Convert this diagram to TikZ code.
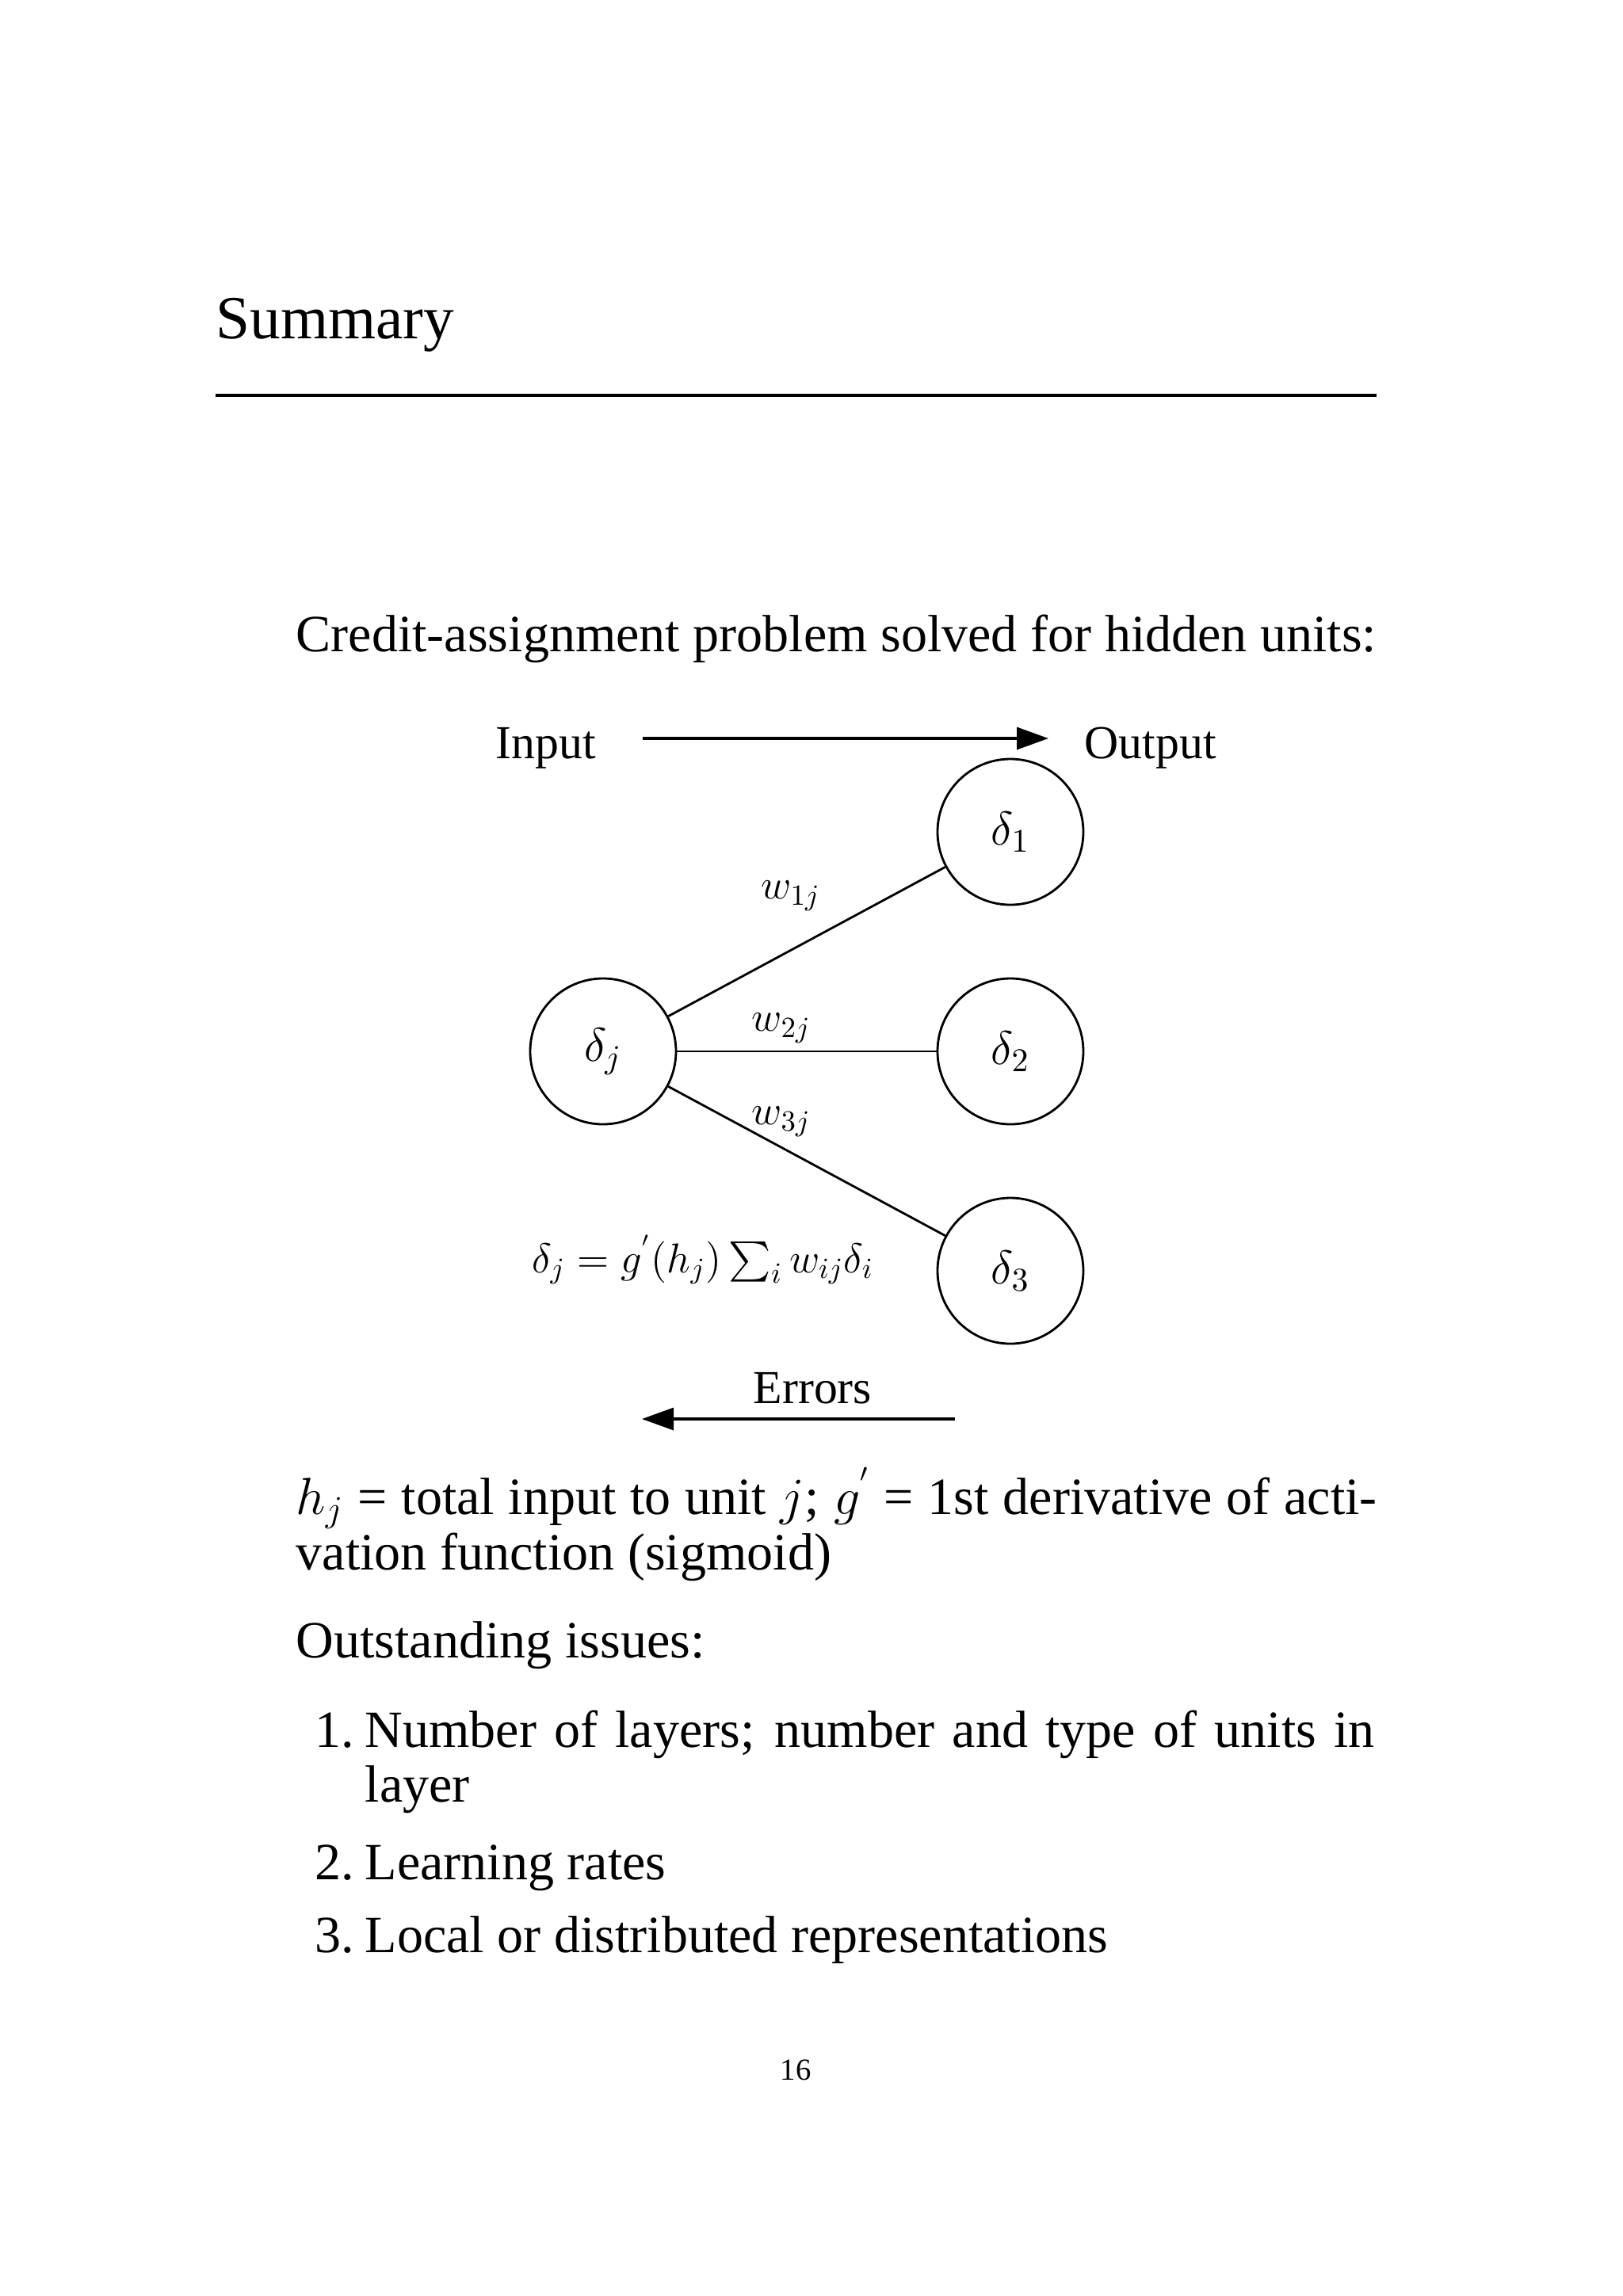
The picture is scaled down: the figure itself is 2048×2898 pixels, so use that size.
\documentclass[tikz,border=0pt]{standalone}
\usepackage{fix-cm}
\usepackage{exscale}
\usepackage{fontspec}
\setmainfont{Liberation Serif}
\usetikzlibrary{arrows.meta}

\begin{document}
\begin{tikzpicture}[x=0.1mm,y=-0.1mm,>={Triangle[length=4mm,width=2.8mm]},
 unit/.style={draw,circle,line width=0.8pt,minimum size=18.4mm,inner sep=0pt,font=\fontsize{17}{20}\selectfont},
 txt/.style={anchor=base west,inner sep=0pt,font=\fontsize{18.8}{23}\selectfont},
 lbl/.style={anchor=base west,inner sep=0pt,font=\fontsize{17}{20}\selectfont},
 wt/.style={inner sep=0pt,font=\fontsize{15}{18}\selectfont},
 link/.style={line width=0.8pt},
 flow/.style={->,line width=0.9pt}]
\useasboundingbox (0,0) rectangle (2048,2898);
% heading
\node[anchor=base west,inner sep=0pt,font=\fontsize{22}{26}\selectfont] (ttl) at (272,427) {Summary};
\draw[line width=1.1pt] (272,499) -- (1737,499);
\node[txt] (intro) at (373,822) {Credit-assignment problem solved for hidden units:};
% network
\node[lbl] (in) at (625,957) {Input};
\node[lbl] (out) at (1368,957) {Output};
\coordinate (fa) at (811,932); \coordinate (fb) at (1323,932);
\draw[flow] (fa) -- (fb);
\node[unit] (d1) at (1275,1050) {$\delta_1$};
\node[unit] (d2) at (1275,1327) {$\delta_2$};
\node[unit] (d3) at (1275,1604) {$\delta_3$};
\node[unit] (dj) at (761,1327) {$\delta_j$};
\draw[link] (dj) -- (d1); \draw[link] (dj) -- (d2); \draw[link] (dj) -- (d3);
\node[wt] (w1) at (998,1131) {$w_{1j}$};
\node[wt] (w2) at (986,1298) {$w_{2j}$};
\node[wt] (w3) at (986,1416) {$w_{3j}$};
\node[wt,anchor=base west] (rule) at (671,1606) {$\delta_j = g^{'}(h_j)\sum_i w_{ij}\delta_i$};
\node[lbl] (err) at (950,1771) {Errors};
\coordinate (ea) at (1205,1791); \coordinate (eb) at (810,1791);
\draw[flow] (ea) -- (eb);
% remarks
\node[txt] (def1) at (373,1911) {\makebox[13.64cm][s]{$h_j$ = total input to unit $j$; $g^{'}$ = 1st derivative of acti-}};
\node[txt] (def2) at (373,1981) {vation function (sigmoid)};
\node[txt] (iss) at (373,2092) {Outstanding issues:};
\node[txt] (n1) at (397,2205) {1.};
\node[txt] (i1) at (460,2205) {\makebox[12.74cm][s]{Number of layers; number and type of units in}};
\node[txt] (i1b) at (460,2274) {layer};
\node[txt] (n2) at (397,2372) {2.};
\node[txt] (i2) at (460,2372) {Learning rates};
\node[txt] (n3) at (397,2464) {3.};
\node[txt] (i3) at (460,2464) {Local or distributed representations};
\node[anchor=base,inner sep=0pt,font=\fontsize{11}{13}\selectfont] (pg) at (1004,2625) {16};
\end{tikzpicture}
\end{document}
